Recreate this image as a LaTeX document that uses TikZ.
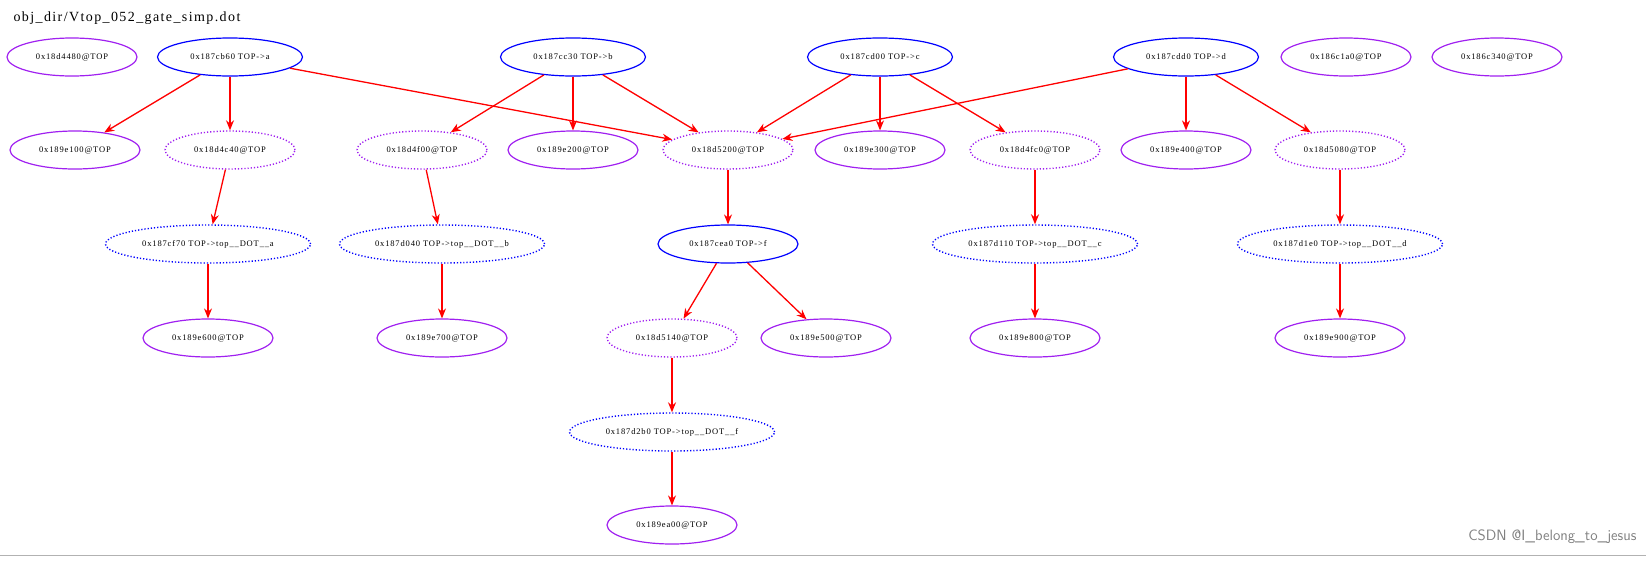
\documentclass[tikz,border=0pt]{standalone}
\usepackage{fontspec}
\setmainfont{Liberation Serif}
\newfontfamily\spaced{Liberation Serif}[LetterSpace=10]
\usetikzlibrary{shapes.geometric,arrows.meta}
\definecolor{pur}{RGB}{160,32,240}
\begin{document}
\begin{tikzpicture}[x=1pt,y=-1pt,
 base/.style={ellipse,draw,line width=1.2pt,minimum height=38pt,inner sep=0pt,font=\spaced\fontsize{8.5}{9}\selectfont},
 ps/.style={base,draw=pur,minimum width=130pt},
 pd/.style={ps,dotted,line width=1.4pt},
 bs/.style={base,draw=blue,minimum width=145pt},
 bd/.style={base,draw=blue,dotted,line width=1.4pt,minimum width=205pt},
 e/.style={draw=red,line width=1.3pt,-{Stealth[length=10pt,width=8pt]}}]
\useasboundingbox (0,0) rectangle (1646,584);
\node[anchor=west,font=\spaced\fontsize{14}{16}\selectfont] (title) at (10,18) {obj\_dir/Vtop\_052\_gate\_simp.dot};
\node[ps] (n1) at (72,57) {0x18d4480@TOP};
\node[bs] (a) at (230,57) {0x187cb60 TOP->a};
\node[bs] (b) at (573,57) {0x187cc30 TOP->b};
\node[bs] (c) at (880,57) {0x187cd00 TOP->c};
\node[bs] (d) at (1186,57) {0x187cdd0 TOP->d};
\node[ps] (n2) at (1346,57) {0x186c1a0@TOP};
\node[ps] (n3) at (1497,57) {0x186c340@TOP};
\node[ps] (e100) at (75,150) {0x189e100@TOP};
\node[pd] (c40) at (230,150) {0x18d4c40@TOP};
\node[pd] (f00) at (422,150) {0x18d4f00@TOP};
\node[ps] (e200) at (573,150) {0x189e200@TOP};
\node[pd] (s200) at (728,150) {0x18d5200@TOP};
\node[ps] (e300) at (880,150) {0x189e300@TOP};
\node[pd] (fc0) at (1035,150) {0x18d4fc0@TOP};
\node[ps] (e400) at (1186,150) {0x189e400@TOP};
\node[pd] (s080) at (1340,150) {0x18d5080@TOP};
\node[bd] (ta) at (208,244) {0x187cf70 TOP->top\_\_DOT\_\_a};
\node[bd] (tb) at (442,244) {0x187d040 TOP->top\_\_DOT\_\_b};
\node[bs,minimum width=140pt] (f) at (728,244) {0x187cea0 TOP->f};
\node[bd] (tc) at (1035,244) {0x187d110 TOP->top\_\_DOT\_\_c};
\node[bd] (td) at (1340,244) {0x187d1e0 TOP->top\_\_DOT\_\_d};
\node[ps] (e600) at (208,338) {0x189e600@TOP};
\node[ps] (e700) at (442,338) {0x189e700@TOP};
\node[pd] (s140) at (672,338) {0x18d5140@TOP};
\node[ps] (e500) at (826,338) {0x189e500@TOP};
\node[ps] (e800) at (1035,338) {0x189e800@TOP};
\node[ps] (e900) at (1340,338) {0x189e900@TOP};
\node[bd] (tf) at (672,432) {0x187d2b0 TOP->top\_\_DOT\_\_f};
\node[ps] (ea00) at (672,525) {0x189ea00@TOP};
\foreach \s/\t in {a/e100,a/c40,a/s200,b/f00,b/e200,b/s200,c/s200,c/e300,c/fc0,d/s200,d/e400,d/s080,c40/ta,f00/tb,s200/f,fc0/tc,s080/td,ta/e600,tb/e700,f/s140,f/e500,s140/tf,tf/ea00,tc/e800,td/e900}
  \draw[e] (\s) -- (\t);
\draw[gray!60,line width=1pt] (0,555) coordinate (l1) -- (1646,555) coordinate (l2);
\node[anchor=east,text=gray,font=\fontsize{15}{17}\selectfont\sffamily] (wm) at (1640,537) {CSDN @I\_belong\_to\_jesus};
\end{tikzpicture}
\end{document}
